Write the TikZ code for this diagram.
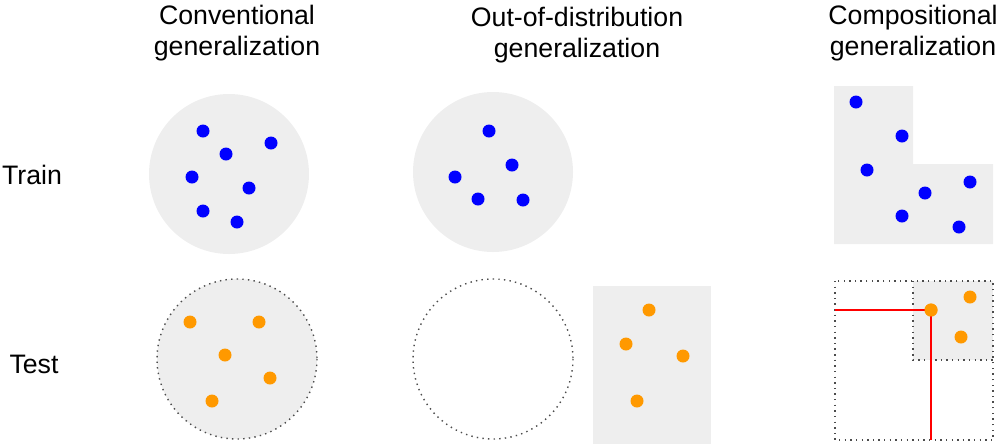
\documentclass[tikz,border=0pt]{standalone}
\usepackage{fontspec}
\setmainfont{Liberation Sans}
\begin{document}
\begin{tikzpicture}[x=0.02cm,y=-0.02cm,
  bdot/.style={circle,fill=blue,inner sep=0pt,minimum size=13*0.02cm},
  odot/.style={circle,fill=orng,inner sep=0pt,minimum size=13*0.02cm},
  lbl/.style={font=\fontsize{15.2}{17.5}\selectfont,align=center},
  dots/.style={draw=black!70,dash pattern=on 0.8pt off 2.4pt,line width=0.8pt}]
\definecolor{orng}{HTML}{FF9900}
\definecolor{gry}{HTML}{EEEEEE}
\useasboundingbox (0,0) rectangle (1000,444);
% titles
\node[lbl] (t1) at (237,33) {Conventional\\generalization};
\node[lbl] (t2) at (577,35) {Out-of-distribution\\generalization};
\node[lbl] (t3) at (913,33) {Compositional\\generalization};
\node[lbl] (tr) at (32,175) {Train};
\node[lbl] (te) at (34,364) {Test};
% conventional
\fill[gry] (229,174) circle (80);
\fill[gry] (237,359) circle (80);
\draw[dots] (237,359) circle (80);
\foreach \p in {(203,131),(271,143),(226,154),(192,177),(249,188),(203,211),(237,222)} \node[bdot] at \p {};
\foreach \p in {(190,322),(259,322),(225,355),(270,378),(212,401)} \node[odot] at \p {};
% ood
\fill[gry] (493,172) circle (80);
\draw[dots] (493,359) circle (80);
\fill[gry] (593,286) rectangle (711,444);
\foreach \p in {(489,131),(512,165),(455,177),(478,199),(523,200)} \node[bdot] at \p {};
\foreach \p in {(649,310),(626,344),(683,356),(637,401)} \node[odot] at \p {};
% compositional
\fill[gry] (834,86) -- (913,86) -- (913,164) -- (993,164) -- (993,244) -- (834,244) -- cycle;
\foreach \p in {(856,102),(902,136),(867,170),(970,182),(925,193),(902,216),(959,227)} \node[bdot] at \p {};
\fill[gry] (913,281) rectangle (993,360);
\draw[dots] (835,281) rectangle (993,440);
\draw[dots] (913,281) -- (913,360) -- (993,360);
\node[odot] (c) at (931,310) {};
\coordinate (cl) at (835,310);
\coordinate (cb) at (931,440);
\draw[red,line width=1pt] (cl) -- (c.center) -- (cb);
\node[odot] at (931,310) {};
\node[odot] at (970,297) {};
\node[odot] at (961,337) {};
\end{tikzpicture}
\end{document}
